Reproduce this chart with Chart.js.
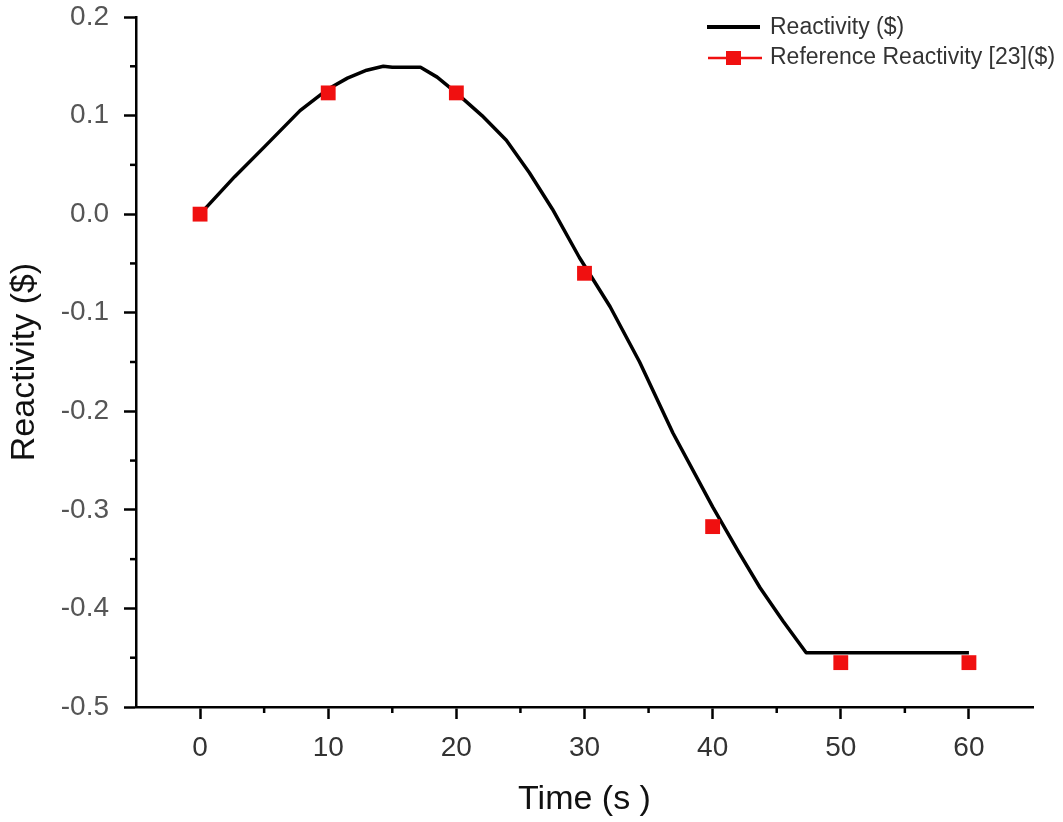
<!DOCTYPE html>
<html>
<head>
<meta charset="utf-8">
<script src="https://cdn.jsdelivr.net/npm/chart.js@4.4.0/dist/chart.umd.min.js"></script>
<style>
  body { margin: 0; background: #fff; }
  canvas { display: block; }
</style>
</head>
<body>
<canvas id="myChart" width="1063" height="822"></canvas>
<script>
// black curve (computed reactivity)
const timeValues = [0, 2.7, 5, 7.8, 10, 11.5, 13, 14.3, 15, 17.2, 18.5, 20, 22, 23.9, 25.7, 27.5, 29.6, 32, 34.3, 36.9, 40, 42, 43.7, 45.5, 47.3, 60];
const reactivityValues = [0, 0.038, 0.068, 0.105, 0.127, 0.138, 0.146, 0.150, 0.149, 0.149, 0.139, 0.123, 0.1, 0.075, 0.042, 0.005, -0.044, -0.094, -0.150, -0.222, -0.297, -0.342, -0.379, -0.413, -0.445, -0.445];

// red squares (reference [23])
const refTimes = [0, 10, 20, 30, 40, 50, 60];
const refReactivity = [0, 0.123, 0.123, -0.06, -0.317, -0.455, -0.455];

const xTicks = [0, 10, 20, 30, 40, 50, 60];
const yTicks = [-0.5, -0.4, -0.3, -0.2, -0.1, 0.0, 0.1, 0.2];

const seriesNames = ['Reactivity ($)', 'Reference Reactivity [23]($)'];

function createGraph() {
    const ctx = document.getElementById('myChart').getContext('2d');

    // short ticks half way between the labelled ones
    const minorTicks = {
        id: 'minorTicks',
        afterDraw(chart) {
            const c = chart.ctx;
            const xs = chart.scales.x, ys = chart.scales.y;
            const area = chart.chartArea;
            c.save();
            c.strokeStyle = '#000';
            c.lineWidth = 2.5;
            for (let i = 0; i < xTicks.length - 1; i++) {
                const px = xs.getPixelForValue((xTicks[i] + xTicks[i + 1]) / 2);
                c.beginPath();
                c.moveTo(px, area.bottom);
                c.lineTo(px, area.bottom + 6);
                c.stroke();
            }
            for (let i = 0; i < yTicks.length - 1; i++) {
                const py = ys.getPixelForValue((yTicks[i] + yTicks[i + 1]) / 2);
                c.beginPath();
                c.moveTo(area.left, py);
                c.lineTo(area.left - 6, py);
                c.stroke();
            }
            c.restore();
        }
    };

    // legend in the top right corner
    const cornerLegend = {
        id: 'cornerLegend',
        afterDraw(chart) {
            const c = chart.ctx;
            c.save();
            c.font = '23px "Liberation Sans", Arial, sans-serif';
            c.fillStyle = '#333';
            c.textBaseline = 'middle';

            c.strokeStyle = '#000';
            c.lineWidth = 4;
            c.beginPath();
            c.moveTo(707, 27);
            c.lineTo(760, 27);
            c.stroke();
            c.fillText(seriesNames[0], 770, 28);

            c.strokeStyle = '#f01010';
            c.lineWidth = 2.5;
            c.beginPath();
            c.moveTo(708, 58);
            c.lineTo(762, 58);
            c.stroke();
            c.fillStyle = '#f01010';
            c.fillRect(726, 51, 15, 14);
            c.fillStyle = '#333';
            c.fillText(seriesNames[1], 770, 58);
            c.restore();
        }
    };

    new Chart(ctx, {
        type: 'scatter',
        data: {
            datasets: [{
                label: seriesNames[0],
                data: timeValues.map((t, i) => ({ x: t, y: reactivityValues[i] })),
                showLine: true,
                borderColor: '#000',
                borderWidth: 3.5,
                borderJoinStyle: 'round',
                pointRadius: 0,
                tension: 0,
                order: 2
            }, {
                label: seriesNames[1],
                data: refTimes.map((t, i) => ({ x: t, y: refReactivity[i] })),
                showLine: false,
                pointStyle: 'rect',
                pointRadius: 10.5,
                backgroundColor: '#f01010',
                borderColor: '#f01010',
                borderWidth: 0,
                order: 1
            }]
        },
        options: {
            responsive: false,
            animation: false,
            layout: { padding: { top: 17, right: 30, left: 0, bottom: 0 } },
            plugins: {
                legend: { display: false },
                tooltip: { enabled: false }
            },
            scales: {
                x: {
                    type: 'linear',
                    min: -5,
                    max: 65,
                    afterBuildTicks: (scale) => { scale.ticks = xTicks.map(v => ({ value: v })); },
                    afterFit: (scale) => { scale.height = 115; scale.paddingLeft = 0; scale.paddingRight = 0; },
                    border: { color: '#000', width: 2.5 },
                    grid: { drawOnChartArea: false, drawTicks: true, tickLength: 12, tickWidth: 2.5, tickColor: '#000' },
                    ticks: {
                        color: '#333',
                        padding: 12,
                        maxRotation: 0,
                        font: { family: '"Liberation Sans", Arial, sans-serif', size: 28 },
                        callback: (v) => String(v)
                    },
                    title: {
                        display: true,
                        text: 'Time (s )',
                        color: '#111',
                        font: { family: '"Liberation Sans", Arial, sans-serif', size: 34 },
                        padding: { top: 0, bottom: 2 }
                    }
                },
                y: {
                    type: 'linear',
                    min: -0.5,
                    max: 0.2,
                    afterBuildTicks: (scale) => { scale.ticks = yTicks.map(v => ({ value: v })); },
                    afterFit: (scale) => { scale.width = 136; scale.paddingTop = 0; scale.paddingBottom = 0; },
                    border: { color: '#000', width: 2.5 },
                    grid: { drawOnChartArea: false, drawTicks: true, tickLength: 12, tickWidth: 2.5, tickColor: '#000' },
                    ticks: {
                        color: '#555',
                        padding: 15,
                        font: { family: '"Liberation Sans", Arial, sans-serif', size: 28 },
                        callback: (v) => Number(v).toFixed(1)
                    },
                    title: {
                        display: true,
                        text: 'Reactivity ($)',
                        color: '#111',
                        font: { family: '"Liberation Sans", Arial, sans-serif', size: 34 },
                        padding: { top: 4, bottom: 0 }
                    }
                }
            }
        },
        plugins: [minorTicks, cornerLegend]
    });
}

document.addEventListener('DOMContentLoaded', createGraph);
</script>
</body>
</html>
